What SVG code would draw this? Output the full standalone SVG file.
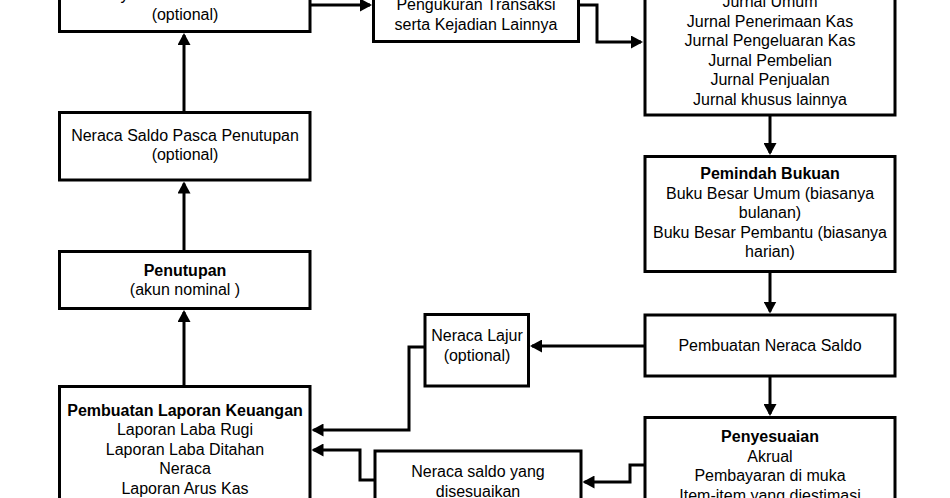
<svg xmlns="http://www.w3.org/2000/svg" width="950" height="498" viewBox="0 0 950 498">
<defs>
<marker id="ah" markerUnits="userSpaceOnUse" markerWidth="13" markerHeight="13" refX="10" refY="6.5" orient="auto">
<path d="M0,0 L12,6.5 L0,13 z" fill="#000"/>
</marker>
<style>
.box{fill:#fff;stroke:#000;stroke-width:3}
.t{font-family:"Liberation Sans",Arial,sans-serif;font-size:16px;fill:#000;text-anchor:middle}
.b{font-weight:bold}
.c{fill:none;stroke:#000;stroke-width:3;marker-end:url(#ah)}
</style>
</defs>
<rect width="950" height="498" fill="#fff"/>
<g id="connectors">
<path class="c" d="M310,5 L370,5"/>
<path class="c" d="M578.5,5 L597,5 L597,42 L641,42"/>
<path class="c" d="M770,115 L770,153"/>
<path class="c" d="M770,271.5 L770,311.5"/>
<path class="c" d="M645,346 L532,346"/>
<path class="c" d="M425,347 L409,347 L409,430 L313.5,430"/>
<path class="c" d="M770,376 L770,414"/>
<path class="c" d="M645,465 L630,465 L630,482 L584.5,482"/>
<path class="c" d="M375,480 L360,480 L360,450 L313.5,450"/>
<path class="c" d="M184,386.5 L184,312"/>
<path class="c" d="M184,251.5 L184,183.5"/>
<path class="c" d="M184,112.5 L184,35"/>
</g>
<g id="reversing">
<rect class="box" x="59.5" y="-60" width="250.5" height="91.5"/>
<text class="t" x="185" y="0">Ayat Jurnal Pembalik</text>
<text class="t" x="185" y="19.5">(optional)</text>
</g>
<g id="identifikasi">
<rect class="box" x="373.5" y="-40" width="205" height="81.5"/>
<text class="t" x="476" y="10">Pengukuran Transaksi</text>
<text class="t" x="476" y="29.5">serta Kejadian Lainnya</text>
</g>
<g id="jurnal">
<rect class="box" x="645" y="-60" width="250" height="175"/>
<text class="t" x="770" y="7">Jurnal Umum</text>
<text class="t" x="770" y="26.5">Jurnal Penerimaan Kas</text>
<text class="t" x="770" y="46">Jurnal Pengeluaran Kas</text>
<text class="t" x="770" y="65.5">Jurnal Pembelian</text>
<text class="t" x="770" y="85">Jurnal Penjualan</text>
<text class="t" x="770" y="104.5">Jurnal khusus lainnya</text>
</g>
<g id="pemindah">
<rect class="box" x="645" y="156.5" width="250" height="115"/>
<text class="t b" x="770" y="179">Pemindah Bukuan</text>
<text class="t" x="770" y="198.5">Buku Besar Umum  (biasanya</text>
<text class="t" x="770" y="218">bulanan)</text>
<text class="t" x="770" y="237.5">Buku Besar Pembantu  (biasanya</text>
<text class="t" x="770" y="257">harian)</text>
</g>
<g id="neraca-saldo">
<rect class="box" x="645" y="315" width="250" height="61"/>
<text class="t" x="770" y="350.5">Pembuatan Neraca Saldo</text>
</g>
<g id="neraca-lajur">
<rect class="box" x="425" y="314.5" width="103.5" height="71.5"/>
<text class="t" x="477" y="341">Neraca Lajur</text>
<text class="t" x="477" y="360.5">(optional)</text>
</g>
<g id="penyesuaian">
<rect class="box" x="645" y="417.5" width="250" height="120"/>
<text class="t b" x="770" y="442">Penyesuaian</text>
<text class="t" x="770" y="461.5">Akrual</text>
<text class="t" x="770" y="481">Pembayaran di muka</text>
<text class="t" x="770" y="500.5">Item-item yang diestimasi</text>
</g>
<g id="neraca-disesuaikan">
<rect class="box" x="375" y="451" width="206" height="90"/>
<text class="t" x="478" y="477">Neraca saldo yang</text>
<text class="t" x="478" y="496.5">disesuaikan</text>
</g>
<g id="laporan">
<rect class="box" x="59.5" y="386.5" width="250.5" height="140"/>
<text class="t b" x="185" y="415.5">Pembuatan Laporan Keuangan</text>
<text class="t" x="185" y="435">Laporan Laba Rugi</text>
<text class="t" x="185" y="454.5">Laporan Laba Ditahan</text>
<text class="t" x="185" y="474">Neraca</text>
<text class="t" x="185" y="493.5">Laporan Arus Kas</text>
</g>
<g id="penutupan">
<rect class="box" x="59.5" y="251.5" width="250.5" height="57"/>
<text class="t b" x="185" y="275.5">Penutupan</text>
<text class="t" x="185" y="295">(akun nominal )</text>
</g>
<g id="pasca-penutupan">
<rect class="box" x="59.5" y="112.5" width="250.5" height="67.5"/>
<text class="t" x="185" y="140.5">Neraca Saldo Pasca Penutupan</text>
<text class="t" x="185" y="160">(optional)</text>
</g>
</svg>
